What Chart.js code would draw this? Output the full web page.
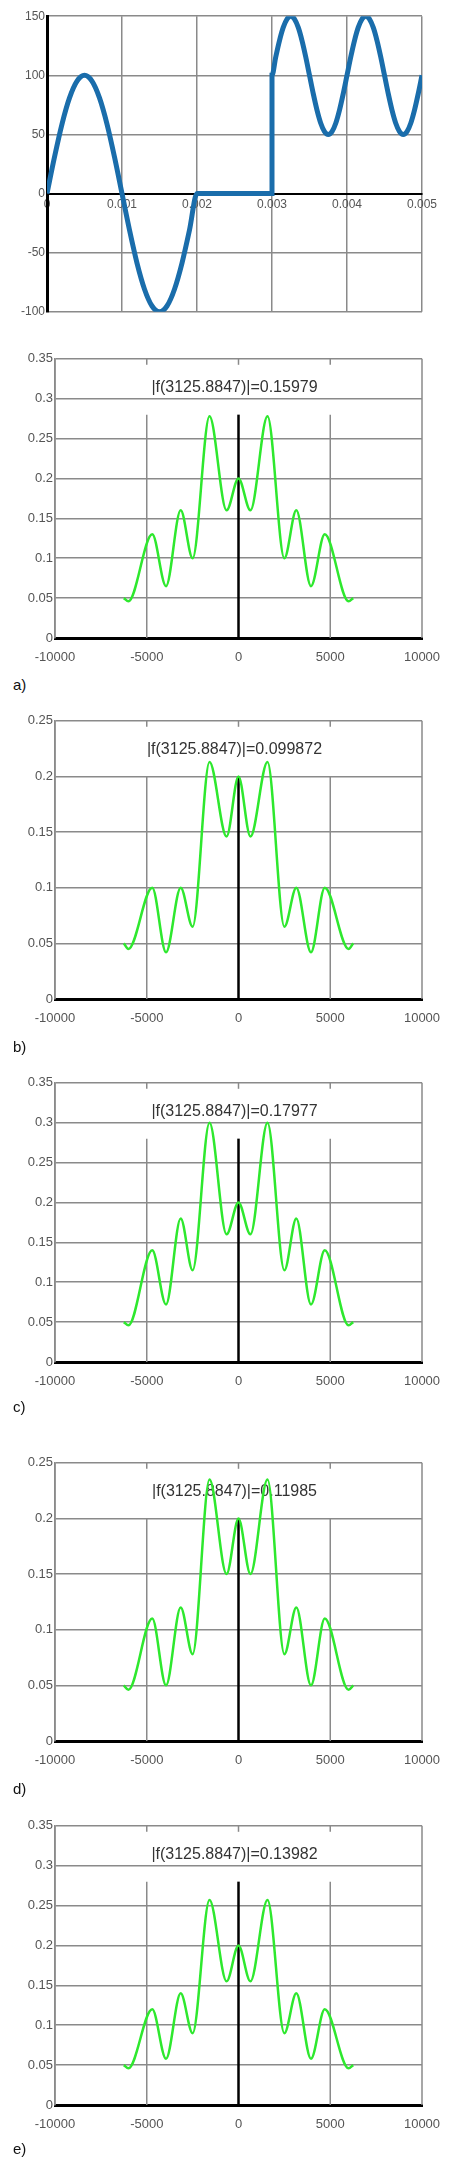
<!DOCTYPE html>
<html><head><meta charset="utf-8">
<script src="https://cdn.jsdelivr.net/npm/chart.js@4"></script>
<style>
body{margin:0;background:#fff;width:461px;height:2172px;position:relative;overflow:hidden;font-family:Arial,"Liberation Sans",sans-serif}
canvas{position:absolute;left:0}
.lab{position:absolute;left:13px;font-size:15px;color:#111}
</style></head><body>
<canvas id="c0"></canvas><canvas id="c1"></canvas><canvas id="c2"></canvas><canvas id="c3"></canvas><canvas id="c4"></canvas><canvas id="c5"></canvas>
<div class="lab" style="top:676px">a)</div>
<div class="lab" style="top:1038px">b)</div>
<div class="lab" style="top:1398px">c)</div>
<div class="lab" style="top:1780px">d)</div>
<div class="lab" style="top:2140px">e)</div>
<script>
// Time-domain signal
const timeT = [0,0.0001,0.0002,0.0003,0.0004,0.0005,0.0006,0.0007,0.0008,0.0009,0.001,0.0011,0.0012,0.0013,0.0014,0.0015,0.0016,0.0017,0.0018,0.0019,0.002,0.0025,0.003,0.003,
0.00305,0.0031,0.00315,0.0032,0.00325,0.0033,0.00335,0.0034,0.00345,0.0035,0.00355,0.0036,0.00365,0.0037,0.00375,0.0038,0.00385,0.0039,0.00395,0.004,
0.00405,0.0041,0.00415,0.0042,0.00425,0.0043,0.00435,0.0044,0.00445,0.0045,0.00455,0.0046,0.00465,0.0047,0.00475,0.0048,0.00485,0.0049,0.00495,0.005];
const timeV = [0,30.9,58.8,80.9,95.1,100,95.1,80.9,58.8,30.9,0,-30.9,-58.8,-80.9,-95.1,-100,-95.1,-80.9,-58.8,-30.9,0,0,0,100,
115.5,129.4,140.5,147.6,150,147.6,140.5,129.4,115.5,100,84.5,70.6,59.5,52.4,50,52.4,59.5,70.6,84.5,100,
115.5,129.4,140.5,147.6,150,147.6,140.5,129.4,115.5,100,84.5,70.6,59.5,52.4,50,52.4,59.5,70.6,84.5,100];
const timeTicks = ['0','0.001','0.002','0.003','0.004','0.005'];

// Spectra
const freqX = [-6250,-6000,-4700,-3950,-3150,-2500,-1580,-650,0,650,1580,2500,3150,3950,4700,6000,6250];
const specA = [0.05,0.046,0.13,0.065,0.16,0.10,0.278,0.16,0.2,0.16,0.278,0.10,0.16,0.065,0.13,0.046,0.05];
const specB = [0.05,0.045,0.10,0.042,0.10,0.065,0.213,0.146,0.2,0.146,0.213,0.065,0.10,0.042,0.10,0.045,0.05];
const specC = [0.05,0.046,0.14,0.072,0.18,0.115,0.30,0.16,0.2,0.16,0.30,0.115,0.18,0.072,0.14,0.046,0.05];
const specD = [0.05,0.046,0.11,0.05,0.12,0.078,0.235,0.15,0.2,0.15,0.235,0.078,0.12,0.05,0.11,0.046,0.05];
const specE = [0.05,0.046,0.12,0.058,0.14,0.09,0.257,0.155,0.2,0.155,0.257,0.09,0.14,0.058,0.12,0.046,0.05];
const specLabels = ['|f(3125.8847)|=0.15979','|f(3125.8847)|=0.099872','|f(3125.8847)|=0.17977','|f(3125.8847)|=0.11985','|f(3125.8847)|=0.13982'];

const GRID='#8a8a8a', TICK='#555';
const PAD=8, XH=24;

function place(cv, plotTop, plotH){
  cv.width=461; cv.height=plotH+PAD+XH;
  cv.style.top=(plotTop-PAD)+'px';
}

// Chart 1
{
  const cv=document.getElementById('c0');
  place(cv,15,300);
  cv.height=300+PAD+6;
  new Chart(cv,{type:'line',
    data:{datasets:[{data:timeT.map((t,i)=>({x:t,y:timeV[i]})),borderColor:'#1a6dab',borderWidth:5,pointRadius:0,cubicInterpolationMode:'monotone'}]},
    options:{responsive:false,animation:false,layout:{padding:{top:PAD,right:39,bottom:6,left:0}},
      plugins:{legend:{display:false},tooltip:{enabled:false}},
      scales:{
        x:{type:'linear',min:0,max:0.005,position:{y:0},
          afterBuildTicks:s=>{s.ticks=timeTicks.map(v=>({value:+v}));},
          ticks:{color:TICK,font:{size:12},padding:4,callback:(v,i)=>timeTicks[i]},
          grid:{color:GRID,lineWidth:1.5,drawTicks:false},border:{color:'#000',width:2}},
        y:{min:-100,max:150,afterFit:s=>{s.width=47;},
          ticks:{stepSize:50,color:TICK,font:{size:12},padding:2,callback:v=>String(v)},
          grid:{color:c=>c.tick&&c.tick.value===0?'rgba(0,0,0,0)':GRID,lineWidth:1.5,drawTicks:false},
          border:{color:'#000',width:3}}
      }}});
}

const specPlugin={id:'spec',
  beforeDatasetsDraw(ch){
    const {ctx,chartArea:ar,scales:{x,y}}=ch;
    const cut=y.getPixelForValue(ch.options.plugins.spec.cut);
    ctx.save();
    [-5000,5000].forEach(v=>{
      const px=x.getPixelForValue(v);
      ctx.strokeStyle=GRID;ctx.lineWidth=1.5;
      ctx.beginPath();ctx.moveTo(px,cut);ctx.lineTo(px,ar.bottom);ctx.stroke();
      ctx.beginPath();ctx.moveTo(px,ar.top);ctx.lineTo(px,ar.top+6);ctx.stroke();
    });
    [-10000,10000].forEach(v=>{
      const px=x.getPixelForValue(v);
      ctx.strokeStyle=GRID;ctx.lineWidth=1.5;
      ctx.beginPath();ctx.moveTo(px,ar.top);ctx.lineTo(px,ar.bottom);ctx.stroke();
    });
    const p0=x.getPixelForValue(0);
    ctx.strokeStyle=GRID;ctx.beginPath();ctx.moveTo(p0,ar.top);ctx.lineTo(p0,ar.top+6);ctx.stroke();
    ctx.strokeStyle='#000';ctx.lineWidth=2.5;
    ctx.beginPath();ctx.moveTo(p0,cut);ctx.lineTo(p0,ar.bottom);ctx.stroke();
    ctx.fillStyle='#333';ctx.font='16px Arial, "Liberation Sans", sans-serif';
    ctx.textAlign='center';ctx.textBaseline='middle';
    ctx.fillText(ch.options.plugins.spec.label,p0-4,ar.top+29);
    ctx.restore();
  }};

function spec(id,plotTop,ymax,vals,cut,label){
  const cv=document.getElementById(id);
  const plotH=ymax>0.3?281:280;
  place(cv,plotTop,plotH);
  new Chart(cv,{type:'line',plugins:[specPlugin],
    data:{datasets:[{data:freqX.map((f,i)=>({x:f,y:vals[i]})),borderColor:'#2ee82e',borderWidth:2.5,pointRadius:0,cubicInterpolationMode:'monotone'}]},
    options:{responsive:false,animation:false,layout:{padding:{top:PAD,right:39,bottom:0,left:0}},
      plugins:{legend:{display:false},tooltip:{enabled:false},spec:{cut:cut,label:label}},
      scales:{
        x:{type:'linear',min:-10000,max:10000,afterFit:s=>{s.height=XH;},
          ticks:{stepSize:5000,color:TICK,font:{size:13},padding:4,callback:v=>String(v)},
          grid:{display:false},border:{color:'#000',width:3}},
        y:{min:0,max:ymax,afterFit:s=>{s.width=55;},
          ticks:{stepSize:0.05,color:TICK,font:{size:13},padding:2,callback:v=>String(+v.toFixed(2))},
          grid:{color:GRID,lineWidth:1.5,drawTicks:false},border:{color:GRID,width:1.5}}
      }}});
}
spec('c1',357,0.35,specA,0.28,specLabels[0]);
spec('c2',719,0.25,specB,0.2,specLabels[1]);
spec('c3',1081,0.35,specC,0.28,specLabels[2]);
spec('c4',1461,0.25,specD,0.2,specLabels[3]);
spec('c5',1824,0.35,specE,0.28,specLabels[4]);
</script></body></html>
